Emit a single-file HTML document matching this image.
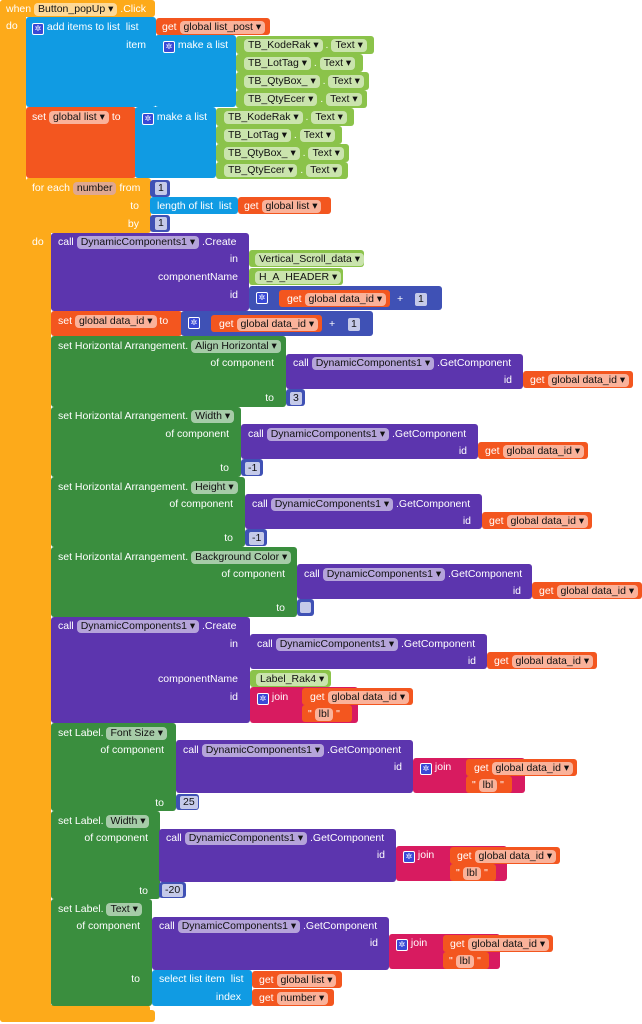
<!DOCTYPE html>
<html><head><meta charset="utf-8"><style>
body{margin:0;width:642px;height:1024px;background:#fff;position:relative;overflow:hidden;font-family:"Liberation Sans",sans-serif}
div{position:absolute;box-sizing:border-box}
.o{background:#FDAA1A}.bl{background:#109BE3}.rd{background:#F3561F}.lg{background:#8BC34A}.dg{background:#3A8E3E}.pu{background:#5C35AE}.mb{background:#3F51B5}.pk{background:#D81B60}
.o,.bl,.rd,.lg,.dg,.pu,.mb,.pk{border-radius:3px}
.t{color:#fff;font-size:10.5px;white-space:nowrap;line-height:14px;height:14px}
.r{text-align:right}
.f{display:inline-block;background:rgba(255,255,255,.55);color:#111;border-radius:4px;padding:0 4px;line-height:13px;font-size:10.5px}
.n{display:inline-block;background:#C5CAE9;color:#111;border-radius:2px;padding:0 3px;line-height:13px;font-size:10.5px}
.g{display:inline-block;width:10px;height:10px;background:#3949d6;border:1px solid #fff;border-radius:2px;vertical-align:-1px;color:#fff;font-size:8px;line-height:10px;text-align:center}
</style></head><body>
<!-- event -->
<div class="o" style="left:0;top:0;width:155px;height:17px"></div>
<div class="o" style="left:0;top:0;width:26px;height:1022px"></div>
<div class="o" style="left:0;top:1010px;width:155px;height:12px"></div>
<div class="t" style="left:6px;top:2px">when <span class="f">Button_popUp ▾</span> .Click</div>
<div class="t" style="left:6px;top:19px">do</div>
<!-- add items -->
<div class="bl" style="left:26px;top:17px;width:130px;height:90px"></div>
<div class="t" style="left:32px;top:20px"><span class="g">✲</span> add items to list&nbsp; list</div>
<div class="t r" style="left:0;width:146px;top:38px">item</div>
<div class="rd" style="left:156px;top:18px;width:114px;height:17px"></div>
<div class="t" style="left:162px;top:20px">get <span class="f">global list_post ▾</span></div>
<div class="bl" style="left:155px;top:35px;width:81px;height:72px"></div>
<div class="t" style="left:163px;top:38px"><span class="g">✲</span> make a list</div>
<div class="lg" style="left:236px;top:36px;width:138px;height:18px"></div>
<div class="t" style="left:244px;top:38px"><span class="f">TB_KodeRak ▾</span> . <span class="f">Text ▾</span></div>
<div class="lg" style="left:236px;top:54px;width:127px;height:18px"></div>
<div class="t" style="left:244px;top:56px"><span class="f">TB_LotTag ▾</span> . <span class="f">Text ▾</span></div>
<div class="lg" style="left:236px;top:72px;width:133px;height:18px"></div>
<div class="t" style="left:244px;top:74px"><span class="f">TB_QtyBox_ ▾</span> . <span class="f">Text ▾</span></div>
<div class="lg" style="left:236px;top:90px;width:131px;height:18px"></div>
<div class="t" style="left:244px;top:92px"><span class="f">TB_QtyEcer ▾</span> . <span class="f">Text ▾</span></div>
<!-- set global list -->
<div class="rd" style="left:26px;top:107px;width:110px;height:71px"></div>
<div class="t" style="left:32px;top:110px">set <span class="f">global list ▾</span> to</div>
<div class="bl" style="left:135px;top:107px;width:81px;height:71px"></div>
<div class="t" style="left:142px;top:110px"><span class="g">✲</span> make a list</div>
<div class="lg" style="left:216px;top:108px;width:138px;height:18px"></div>
<div class="t" style="left:224px;top:110px"><span class="f">TB_KodeRak ▾</span> . <span class="f">Text ▾</span></div>
<div class="lg" style="left:216px;top:126px;width:126px;height:18px"></div>
<div class="t" style="left:224px;top:128px"><span class="f">TB_LotTag ▾</span> . <span class="f">Text ▾</span></div>
<div class="lg" style="left:216px;top:144px;width:133px;height:18px"></div>
<div class="t" style="left:224px;top:146px"><span class="f">TB_QtyBox_ ▾</span> . <span class="f">Text ▾</span></div>
<div class="lg" style="left:216px;top:162px;width:132px;height:17px"></div>
<div class="t" style="left:224px;top:163px"><span class="f">TB_QtyEcer ▾</span> . <span class="f">Text ▾</span></div>
<!-- for each -->
<div class="o" style="left:26px;top:178px;width:125px;height:55px"></div>
<div class="o" style="left:26px;top:178px;width:25px;height:838px"></div>
<div class="o" style="left:26px;top:1005px;width:124px;height:11px"></div>
<div class="t" style="left:32px;top:181px">for each <span class="f" style="background:#e0a890">number</span> from</div>
<div class="t r" style="left:0;width:139px;top:199px">to</div>
<div class="t r" style="left:0;width:139px;top:217px">by</div>
<div class="t" style="left:32px;top:235px">do</div>
<div class="mb" style="left:150px;top:180px;width:20px;height:17px"></div>
<div class="t" style="left:155px;top:181px"><span class="n">1</span></div>
<div class="bl" style="left:150px;top:197px;width:88px;height:17px"></div>
<div class="t" style="left:157px;top:199px">length of list&nbsp; list</div>
<div class="rd" style="left:238px;top:197px;width:93px;height:17px"></div>
<div class="t" style="left:244px;top:199px">get <span class="f">global list ▾</span></div>
<div class="mb" style="left:150px;top:215px;width:20px;height:17px"></div>
<div class="t" style="left:155px;top:216px"><span class="n">1</span></div>
<!-- create 1 -->
<div class="pu" style="left:51px;top:233px;width:198px;height:78px"></div>
<div class="t" style="left:58px;top:235px">call <span class="f">DynamicComponents1 ▾</span> .Create</div>
<div class="t r" style="left:0;width:238px;top:252px">in</div>
<div class="t r" style="left:0;width:238px;top:270px">componentName</div>
<div class="t r" style="left:0;width:238px;top:288px">id</div>
<div class="lg" style="left:249px;top:250px;width:115px;height:17px"></div>
<div class="t" style="left:255px;top:252px"><span class="f">Vertical_Scroll_data ▾</span></div>
<div class="lg" style="left:249px;top:268px;width:94px;height:17px"></div>
<div class="t" style="left:255px;top:270px"><span class="f">H_A_HEADER ▾</span></div>
<div class="mb" style="left:249px;top:286px;width:193px;height:24px"></div>
<div class="t" style="left:256px;top:289px"><span class="g">✲</span></div>
<div class="rd" style="left:279px;top:290px;width:111px;height:17px"></div>
<div class="t" style="left:287px;top:292px">get <span class="f">global data_id ▾</span></div>
<div class="t" style="left:397px;top:292px">+</div>
<div class="t" style="left:415px;top:292px"><span class="n">1</span></div>
<!-- set data_id -->
<div class="rd" style="left:51px;top:311px;width:131px;height:25px"></div>
<div class="t" style="left:58px;top:314px">set <span class="f">global data_id ▾</span> to</div>
<div class="mb" style="left:181px;top:311px;width:192px;height:25px"></div>
<div class="t" style="left:188px;top:314px"><span class="g">✲</span></div>
<div class="rd" style="left:211px;top:315px;width:111px;height:17px"></div>
<div class="t" style="left:219px;top:317px">get <span class="f">global data_id ▾</span></div>
<div class="t" style="left:329px;top:317px">+</div>
<div class="t" style="left:348px;top:317px"><span class="n">1</span></div>
<!-- Align Horizontal -->
<div class="dg" style="left:51px;top:336px;width:235px;height:71px"></div>
<div class="t" style="left:58px;top:339px">set Horizontal Arrangement. <span class="f">Align Horizontal ▾</span></div>
<div class="t r" style="left:0;width:274px;top:356px">of component</div>
<div class="t r" style="left:0;width:274px;top:391px">to</div>
<div class="pu" style="left:286px;top:354px;width:237px;height:35px"></div>
<div class="t" style="left:293px;top:356px">call <span class="f">DynamicComponents1 ▾</span> .GetComponent</div>
<div class="t r" style="left:0;width:512px;top:373px">id</div>
<div class="rd" style="left:523px;top:371px;width:110px;height:17px"></div>
<div class="t" style="left:530px;top:373px">get <span class="f">global data_id ▾</span></div>
<div class="mb" style="left:286px;top:389px;width:19px;height:17px"></div>
<div class="t" style="left:290px;top:391px"><span class="n">3</span></div>
<!-- Width -->
<div class="dg" style="left:51px;top:407px;width:190px;height:70px"></div>
<div class="t" style="left:58px;top:409px">set Horizontal Arrangement. <span class="f">Width ▾</span></div>
<div class="t r" style="left:0;width:229px;top:427px">of component</div>
<div class="t r" style="left:0;width:229px;top:461px">to</div>
<div class="pu" style="left:241px;top:424px;width:237px;height:35px"></div>
<div class="t" style="left:248px;top:427px">call <span class="f">DynamicComponents1 ▾</span> .GetComponent</div>
<div class="t r" style="left:0;width:467px;top:444px">id</div>
<div class="rd" style="left:478px;top:442px;width:110px;height:17px"></div>
<div class="t" style="left:485px;top:444px">get <span class="f">global data_id ▾</span></div>
<div class="mb" style="left:241px;top:459px;width:22px;height:17px"></div>
<div class="t" style="left:245px;top:461px"><span class="n">-1</span></div>
<!-- Height -->
<div class="dg" style="left:51px;top:477px;width:194px;height:70px"></div>
<div class="t" style="left:58px;top:480px">set Horizontal Arrangement. <span class="f">Height ▾</span></div>
<div class="t r" style="left:0;width:233px;top:497px">of component</div>
<div class="t r" style="left:0;width:233px;top:531px">to</div>
<div class="pu" style="left:245px;top:494px;width:237px;height:35px"></div>
<div class="t" style="left:252px;top:497px">call <span class="f">DynamicComponents1 ▾</span> .GetComponent</div>
<div class="t r" style="left:0;width:471px;top:514px">id</div>
<div class="rd" style="left:482px;top:512px;width:110px;height:17px"></div>
<div class="t" style="left:489px;top:514px">get <span class="f">global data_id ▾</span></div>
<div class="mb" style="left:245px;top:529px;width:22px;height:17px"></div>
<div class="t" style="left:249px;top:531px"><span class="n">-1</span></div>
<!-- Background -->
<div class="dg" style="left:51px;top:547px;width:246px;height:70px"></div>
<div class="t" style="left:58px;top:550px">set Horizontal Arrangement. <span class="f">Background Color ▾</span></div>
<div class="t r" style="left:0;width:285px;top:567px">of component</div>
<div class="t r" style="left:0;width:285px;top:601px">to</div>
<div class="pu" style="left:297px;top:564px;width:235px;height:35px"></div>
<div class="t" style="left:304px;top:567px">call <span class="f">DynamicComponents1 ▾</span> .GetComponent</div>
<div class="t r" style="left:0;width:521px;top:584px">id</div>
<div class="rd" style="left:532px;top:582px;width:110px;height:17px"></div>
<div class="t" style="left:539px;top:584px">get <span class="f">global data_id ▾</span></div>
<div class="mb" style="left:297px;top:599px;width:17px;height:17px"></div>
<div style="left:300px;top:602px;width:11px;height:11px;background:#C5CAE9;border-radius:2px"></div>
<!-- create 2 -->
<div class="pu" style="left:51px;top:617px;width:199px;height:106px"></div>
<div class="t" style="left:58px;top:619px">call <span class="f">DynamicComponents1 ▾</span> .Create</div>
<div class="t r" style="left:0;width:238px;top:637px">in</div>
<div class="t r" style="left:0;width:238px;top:672px">componentName</div>
<div class="t r" style="left:0;width:238px;top:690px">id</div>
<div class="pu" style="left:250px;top:634px;width:237px;height:35px"></div>
<div class="t" style="left:257px;top:637px">call <span class="f">DynamicComponents1 ▾</span> .GetComponent</div>
<div class="t r" style="left:0;width:476px;top:654px">id</div>
<div class="rd" style="left:487px;top:652px;width:110px;height:17px"></div>
<div class="t" style="left:494px;top:654px">get <span class="f">global data_id ▾</span></div>
<div class="lg" style="left:250px;top:670px;width:81px;height:17px"></div>
<div class="t" style="left:256px;top:672px"><span class="f">Label_Rak4 ▾</span></div>
<div class="pk" style="left:250px;top:687px;width:108px;height:36px"></div>
<div class="t" style="left:257px;top:690px"><span class="g">✲</span> join</div>
<div class="rd" style="left:302px;top:688px;width:111px;height:17px"></div>
<div class="t" style="left:310px;top:690px">get <span class="f">global data_id ▾</span></div>
<div class="rd" style="left:302px;top:705px;width:50px;height:17px"></div>
<div class="t" style="left:308px;top:707px">" <span class="f">lbl</span> "</div>
<!-- Font Size -->
<div class="dg" style="left:51px;top:723px;width:125px;height:88px"></div>
<div class="t" style="left:58px;top:726px">set Label. <span class="f">Font Size ▾</span></div>
<div class="t r" style="left:0;width:164px;top:743px">of component</div>
<div class="t r" style="left:0;width:164px;top:796px">to</div>
<div class="pu" style="left:176px;top:740px;width:237px;height:53px"></div>
<div class="t" style="left:183px;top:743px">call <span class="f">DynamicComponents1 ▾</span> .GetComponent</div>
<div class="t r" style="left:0;width:402px;top:760px">id</div>
<div class="pk" style="left:413px;top:758px;width:112px;height:35px"></div>
<div class="t" style="left:420px;top:760px"><span class="g">✲</span> join</div>
<div class="rd" style="left:466px;top:759px;width:111px;height:17px"></div>
<div class="t" style="left:474px;top:761px">get <span class="f">global data_id ▾</span></div>
<div class="rd" style="left:466px;top:776px;width:46px;height:17px"></div>
<div class="t" style="left:472px;top:778px">" <span class="f">lbl</span> "</div>
<div class="mb" style="left:176px;top:794px;width:23px;height:16px"></div>
<div class="t" style="left:180px;top:795px"><span class="n">25</span></div>
<!-- Label Width -->
<div class="dg" style="left:51px;top:811px;width:109px;height:88px"></div>
<div class="t" style="left:58px;top:814px">set Label. <span class="f">Width ▾</span></div>
<div class="t r" style="left:0;width:148px;top:831px">of component</div>
<div class="t r" style="left:0;width:148px;top:884px">to</div>
<div class="pu" style="left:159px;top:829px;width:237px;height:53px"></div>
<div class="t" style="left:166px;top:831px">call <span class="f">DynamicComponents1 ▾</span> .GetComponent</div>
<div class="t r" style="left:0;width:385px;top:848px">id</div>
<div class="pk" style="left:396px;top:846px;width:111px;height:35px"></div>
<div class="t" style="left:403px;top:848px"><span class="g">✲</span> join</div>
<div class="rd" style="left:450px;top:847px;width:110px;height:17px"></div>
<div class="t" style="left:457px;top:849px">get <span class="f">global data_id ▾</span></div>
<div class="rd" style="left:450px;top:864px;width:46px;height:17px"></div>
<div class="t" style="left:456px;top:866px">" <span class="f">lbl</span> "</div>
<div class="mb" style="left:159px;top:882px;width:27px;height:16px"></div>
<div class="t" style="left:162px;top:883px"><span class="n">-20</span></div>
<!-- Label Text -->
<div class="dg" style="left:51px;top:899px;width:101px;height:107px"></div>
<div class="t" style="left:58px;top:902px">set Label. <span class="f">Text ▾</span></div>
<div class="t r" style="left:0;width:140px;top:919px">of component</div>
<div class="t r" style="left:0;width:140px;top:972px">to</div>
<div class="pu" style="left:152px;top:917px;width:237px;height:53px"></div>
<div class="t" style="left:159px;top:919px">call <span class="f">DynamicComponents1 ▾</span> .GetComponent</div>
<div class="t r" style="left:0;width:378px;top:936px">id</div>
<div class="pk" style="left:389px;top:934px;width:111px;height:35px"></div>
<div class="t" style="left:396px;top:936px"><span class="g">✲</span> join</div>
<div class="rd" style="left:443px;top:935px;width:110px;height:17px"></div>
<div class="t" style="left:450px;top:937px">get <span class="f">global data_id ▾</span></div>
<div class="rd" style="left:443px;top:952px;width:46px;height:17px"></div>
<div class="t" style="left:449px;top:954px">" <span class="f">lbl</span> "</div>
<div class="bl" style="left:152px;top:970px;width:100px;height:36px"></div>
<div class="t" style="left:159px;top:972px">select list item&nbsp; list</div>
<div class="t r" style="left:0;width:241px;top:990px">index</div>
<div class="rd" style="left:252px;top:971px;width:90px;height:17px"></div>
<div class="t" style="left:259px;top:973px">get <span class="f">global list ▾</span></div>
<div class="rd" style="left:252px;top:989px;width:82px;height:17px"></div>
<div class="t" style="left:259px;top:991px">get <span class="f">number ▾</span></div>
</body></html>
